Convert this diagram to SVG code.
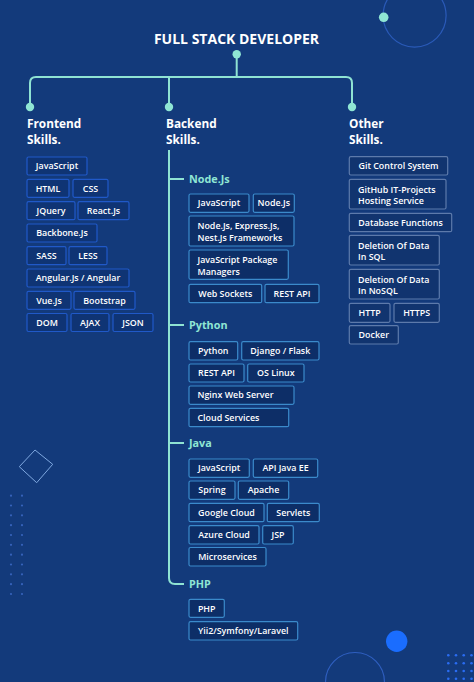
<svg xmlns="http://www.w3.org/2000/svg" width="474" height="682" viewBox="0 0 474 682">
<style>
text{font-family:"Open Sans","Noto Sans","Liberation Sans",sans-serif;fill:#ffffff}
.title{font-size:14px;font-weight:700}
.head{font-size:11.8px;font-weight:700}
.sec{font-size:10.8px;font-weight:700;fill:#8fe6d4}
.t{font-size:8.9px;font-weight:600}
.c{text-anchor:middle}
.fe rect{fill:#0f3474;stroke:#2059c8;stroke-width:1.2}
.be rect{fill:#0d2e67;stroke:#3b8acb;stroke-width:1.2}
.ot rect{fill:#11346f;stroke:#5d7aab;stroke-width:1.2}
.ln{fill:none;stroke:#8fe3d3;stroke-width:2}
.dot{fill:#8fe6d4}
.gd{fill:#3763bb}
.gb{fill:#2a6cf2}
</style>
<rect width="474" height="682" fill="#133a7b"/>
<g id="decor">
<circle cx="414.6" cy="15.6" r="31.5" fill="none" stroke="#2a5ab8" stroke-width="1.2"/>
<circle cx="383.7" cy="17.3" r="4.8" class="dot"/>
<polygon points="35,450 52.7,464.3 36.7,482.7 19.3,466.7" fill="none" stroke="#7fa8e0" stroke-width="1"/>
<circle cx="396.7" cy="641.3" r="10.7" fill="#1a6dff"/>
<circle cx="355" cy="682" r="29.5" fill="none" stroke="#2f5fc0" stroke-width="1.2"/>
<g class="gd">
<circle cx="11" cy="495.7" r="1.1"/><circle cx="22" cy="495.7" r="1.1"/>
<circle cx="11" cy="505.5" r="1.1"/><circle cx="22" cy="505.5" r="1.1"/>
<circle cx="11" cy="515.3" r="1.1"/><circle cx="22" cy="515.3" r="1.1"/>
<circle cx="11" cy="525.2" r="1.1"/><circle cx="22" cy="525.2" r="1.1"/>
<circle cx="11" cy="535" r="1.1"/><circle cx="22" cy="535" r="1.1"/>
<circle cx="11" cy="544.8" r="1.1"/><circle cx="22" cy="544.8" r="1.1"/>
<circle cx="11" cy="554.7" r="1.1"/><circle cx="22" cy="554.7" r="1.1"/>
<circle cx="11" cy="564.5" r="1.1"/><circle cx="22" cy="564.5" r="1.1"/>
<circle cx="11" cy="574.3" r="1.1"/><circle cx="22" cy="574.3" r="1.1"/>
<circle cx="11" cy="584.2" r="1.1"/><circle cx="22" cy="584.2" r="1.1"/>
<circle cx="11" cy="594" r="1.1"/><circle cx="22" cy="594" r="1.1"/>
</g>
<g class="gb">
<circle cx="448.3" cy="655.3" r="1.3"/><circle cx="456" cy="655.3" r="1.3"/><circle cx="463.7" cy="655.3" r="1.3"/><circle cx="471.5" cy="655.3" r="1.3"/>
<circle cx="448.3" cy="663.3" r="1.3"/><circle cx="456" cy="663.3" r="1.3"/><circle cx="463.7" cy="663.3" r="1.3"/><circle cx="471.5" cy="663.3" r="1.3"/>
<circle cx="448.3" cy="671" r="1.3"/><circle cx="456" cy="671" r="1.3"/><circle cx="463.7" cy="671" r="1.3"/><circle cx="471.5" cy="671" r="1.3"/>
<circle cx="448.3" cy="678.7" r="1.3"/><circle cx="456" cy="678.7" r="1.3"/><circle cx="463.7" cy="678.7" r="1.3"/><circle cx="471.5" cy="678.7" r="1.3"/>
</g>
</g>
<g id="connectors">
<path class="ln" d="M236.7 54 V77"/>
<path class="ln" d="M30 107 V83 Q30 77 36 77 H346 Q352 77 352 83 V107"/>
<path class="ln" d="M169 77 V107"/>
<path class="ln" d="M169 150 V578 Q169 584 175 584 H184"/>
<path class="ln" d="M169 179 H184"/>
<path class="ln" d="M169 325 H184"/>
<path class="ln" d="M169 443 H184"/>
</g>
<g id="title">
<text class="title c" x="236.5" y="44.3">FULL STACK DEVELOPER</text>
<circle cx="236.7" cy="54.3" r="4.2" class="dot"/>
</g>
<g id="frontend" class="fe">
<circle cx="30" cy="107" r="4.2" class="dot"/>
<text class="head" x="27" y="128">Frontend</text>
<text class="head" x="27" y="143.5">Skills.</text>
<rect x="27" y="157" width="60" height="18" rx="1.5"/><text class="t c" x="57" y="169.2">JavaScript</text>
<rect x="27" y="179.3" width="42" height="18" rx="1.5"/><text class="t c" x="48" y="191.5">HTML</text>
<rect x="73" y="179.3" width="35" height="18" rx="1.5"/><text class="t c" x="90.5" y="191.5">CSS</text>
<rect x="27" y="201.7" width="48" height="18" rx="1.5"/><text class="t c" x="51" y="213.9">JQuery</text>
<rect x="78" y="201.7" width="51" height="18" rx="1.5"/><text class="t c" x="103.5" y="213.9">React.Js</text>
<rect x="27" y="224" width="70" height="18" rx="1.5"/><text class="t c" x="62" y="236.2">Backbone.Js</text>
<rect x="27" y="246.7" width="39" height="18" rx="1.5"/><text class="t c" x="46.5" y="258.9">SASS</text>
<rect x="69" y="246.7" width="38" height="18" rx="1.5"/><text class="t c" x="88" y="258.9">LESS</text>
<rect x="27" y="269" width="102" height="18" rx="1.5"/><text class="t c" x="78" y="281.2">Angular.Js / Angular</text>
<rect x="27" y="291.3" width="44" height="18" rx="1.5"/><text class="t c" x="49" y="303.5">Vue.Js</text>
<rect x="74" y="291.3" width="61" height="18" rx="1.5"/><text class="t c" x="104.5" y="303.5">Bootstrap</text>
<rect x="27" y="313.5" width="40" height="18" rx="1.5"/><text class="t c" x="47" y="325.7">DOM</text>
<rect x="71" y="313.5" width="38" height="18" rx="1.5"/><text class="t c" x="90" y="325.7">AJAX</text>
<rect x="113" y="313.5" width="40" height="18" rx="1.5"/><text class="t c" x="133" y="325.7">JSON</text>
</g>
<g id="backend" class="be">
<circle cx="169" cy="107" r="4.2" class="dot"/>
<text class="head" x="166" y="128">Backend</text>
<text class="head" x="166" y="143.5">Skills.</text>
<text class="sec" x="189" y="182.5">Node.Js</text>
<rect x="189" y="194" width="60" height="18.3" rx="1.5"/><text class="t c" x="219" y="206.3">JavaScript</text>
<rect x="253.3" y="194" width="41" height="18.3" rx="1.5"/><text class="t c" x="273.8" y="206.3">Node.Js</text>
<rect x="189" y="216" width="105" height="30" rx="1.5"/><text class="t" x="197.5" y="229.3">Node.Js, Express.Js,</text><text class="t" x="197.5" y="241">Nest.Js Frameworks</text>
<rect x="189" y="250" width="99.3" height="29.3" rx="1.5"/><text class="t" x="197.5" y="263.1">JavaScript Package</text><text class="t" x="197.5" y="274.8">Managers</text>
<rect x="189" y="284.3" width="72.7" height="18.4" rx="1.5"/><text class="t c" x="225.3" y="296.7">Web Sockets</text>
<rect x="265" y="284.3" width="54" height="18.4" rx="1.5"/><text class="t c" x="292" y="296.7">REST API</text>
<text class="sec" x="189" y="329">Python</text>
<rect x="189" y="341.7" width="48.7" height="18.3" rx="1.5"/><text class="t c" x="213.3" y="354">Python</text>
<rect x="241.7" y="341.7" width="77.3" height="18.3" rx="1.5"/><text class="t c" x="280.3" y="354">Django / Flask</text>
<rect x="189" y="364" width="55" height="18" rx="1.5"/><text class="t c" x="216.5" y="376.2">REST API</text>
<rect x="247.7" y="364" width="56.3" height="18" rx="1.5"/><text class="t c" x="275.8" y="376.2">OS Linux</text>
<rect x="189" y="386" width="105" height="18.3" rx="1.5"/><text class="t" x="197.5" y="398.3">Nginx Web Server</text>
<rect x="189" y="408.3" width="99.7" height="18.4" rx="1.5"/><text class="t" x="197.5" y="420.7">Cloud Services</text>
<text class="sec" x="189" y="447">Java</text>
<rect x="189" y="459" width="60.3" height="18.3" rx="1.5"/><text class="t c" x="219.2" y="471.3">JavaScript</text>
<rect x="253.3" y="459" width="64.4" height="18.3" rx="1.5"/><text class="t c" x="285.5" y="471.3">API Java EE</text>
<rect x="189" y="481" width="46" height="18.3" rx="1.5"/><text class="t c" x="212" y="493.3">Spring</text>
<rect x="238.3" y="481" width="50.4" height="18.3" rx="1.5"/><text class="t c" x="263.5" y="493.3">Apache</text>
<rect x="189" y="503.3" width="75" height="18.4" rx="1.5"/><text class="t c" x="226.5" y="515.7">Google Cloud</text>
<rect x="267.3" y="503.3" width="52" height="18.4" rx="1.5"/><text class="t c" x="293.3" y="515.7">Servlets</text>
<rect x="189" y="525.7" width="70" height="18.3" rx="1.5"/><text class="t c" x="224" y="538">Azure Cloud</text>
<rect x="262.7" y="525.7" width="30.6" height="18.3" rx="1.5"/><text class="t c" x="278" y="538">JSP</text>
<rect x="189" y="547.5" width="77" height="18.5" rx="1.5"/><text class="t c" x="227.5" y="559.9">Microservices</text>
<text class="sec" x="189" y="588">PHP</text>
<rect x="189" y="599.3" width="35.3" height="18" rx="1.5"/><text class="t c" x="206.7" y="611.5">PHP</text>
<rect x="189" y="621.7" width="108.7" height="18.3" rx="1.5"/><text class="t c" x="243.3" y="634">Yii2/Symfony/Laravel</text>
</g>
<g id="other" class="ot">
<circle cx="352" cy="107" r="4.2" class="dot"/>
<text class="head" x="349" y="128">Other</text>
<text class="head" x="349" y="143.5">Skills.</text>
<rect x="349.3" y="156.7" width="98.4" height="18.3" rx="1.5"/><text class="t c" x="398.5" y="169">Git Control System</text>
<rect x="349.3" y="179.3" width="96.7" height="29.7" rx="1.5"/><text class="t" x="358" y="192.6">GitHub IT-Projects</text><text class="t" x="358" y="204.3">Hosting Service</text>
<rect x="349.3" y="213.3" width="102.4" height="18.4" rx="1.5"/><text class="t c" x="400.5" y="225.7">Database Functions</text>
<rect x="349.3" y="235.3" width="90" height="29.7" rx="1.5"/><text class="t" x="358" y="248.6">Deletion Of Data</text><text class="t" x="358" y="260.3">In SQL</text>
<rect x="349.3" y="269.3" width="90" height="29.7" rx="1.5"/><text class="t" x="358" y="282.6">Deletion Of Data</text><text class="t" x="358" y="294.3">In NoSQL</text>
<rect x="349.3" y="303.3" width="40.7" height="19" rx="1.5"/><text class="t c" x="369.7" y="316">HTTP</text>
<rect x="394" y="303.3" width="45.3" height="19" rx="1.5"/><text class="t c" x="416.7" y="316">HTTPS</text>
<rect x="349.3" y="325.7" width="49" height="18.3" rx="1.5"/><text class="t c" x="373.8" y="338">Docker</text>
</g>
</svg>
